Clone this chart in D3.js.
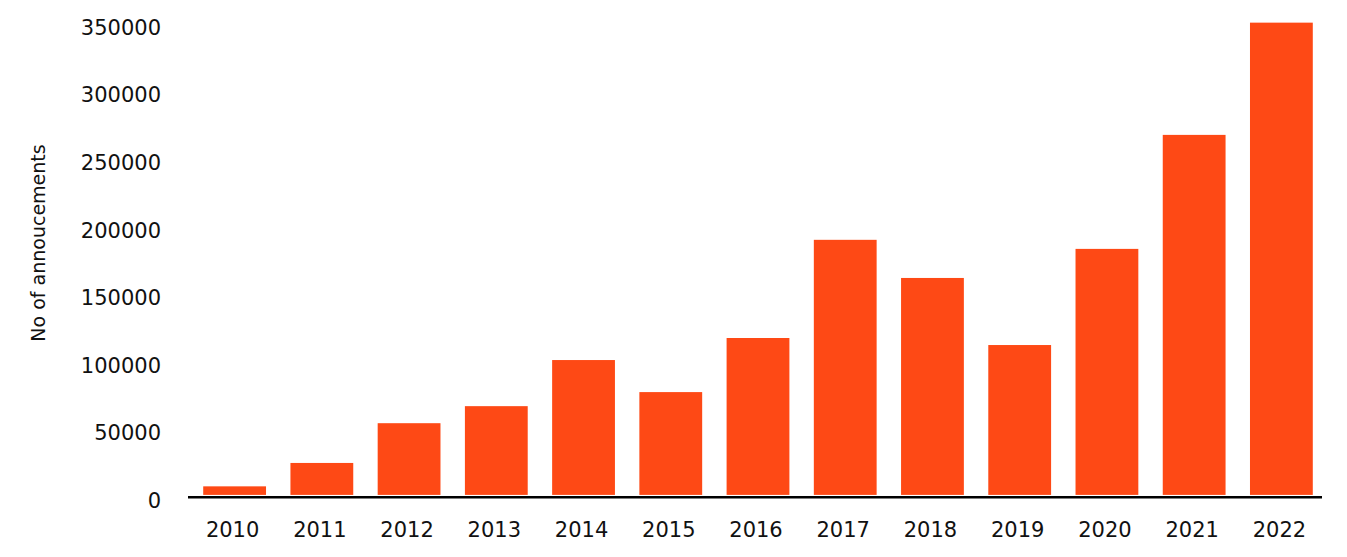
<!DOCTYPE html>
<html>
<head>
<meta charset="utf-8">
<script src="https://cdn.jsdelivr.net/npm/d3@7"></script>
<style>
  body { margin: 0; background: #fff; }
  text { font-family: 'DejaVu Sans', Verdana, sans-serif; fill: #111; }
</style>
</head>
<body>
<div class="container"></div>
<script>
const WIDTH = 1347;
const HEIGHT = 557;

var years = ['2010','2011','2012','2013','2014','2015','2016','2017','2018','2019','2020','2021','2022'];
var announcements = [8100, 25400, 54800, 67400, 101500, 77800, 117800, 190400, 162200, 112600, 183700, 268000, 351000];
var yTicks = [0, 50000, 100000, 150000, 200000, 250000, 300000, 350000];
var yTitle = 'No of annoucements';

var display = function () {
  var svg = d3.select('.container').append('svg')
    .attr('width', WIDTH)
    .attr('height', HEIGHT)

  var x = d3.scaleBand()
    .domain(years)
    .range([191, 1325])
    .paddingInner(0.28)
    .paddingOuter(0.14)

  var y = d3.scaleLinear()
    .domain([0, 350000])
    .range([497.3, 24])

  drawBars(svg, x, y);
  drawAxes(svg, x, y);
}

var drawBars = function (svg, x, y) {
  svg.append('g')
    .selectAll('rect')
    .data(years)
    .join('rect')
    .attr('x', d => x(d))
    .attr('y', (d, i) => y(announcements[i]))
    .attr('width', x.bandwidth())
    .attr('height', (d, i) => y(0) - 2.4 - y(announcements[i]))
    .attr('fill', '#fe4915')
}

var drawAxes = function (svg, x, y) {
  // y labels only, no axis line
  var yAxis = svg.append('g')
    .attr('transform', 'translate(161,3.5)')
    .call(d3.axisLeft(y).tickValues(yTicks).tickSize(0).tickPadding(0).tickFormat(d3.format('d')))
  yAxis.select('.domain').remove()
  yAxis.selectAll('text')
    .style('font-size', '21px')
    .style('font-family', "'DejaVu Sans', Verdana, sans-serif")
    .attr('fill', '#111')

  var xAxis = svg.append('g')
    .attr('transform', 'translate(-2,' + y(0) + ')')
    .call(d3.axisBottom(x).tickSize(0).tickPadding(25))
  xAxis.select('.domain').remove()
  xAxis.selectAll('text')
    .style('font-size', '21px')
    .style('font-family', "'DejaVu Sans', Verdana, sans-serif")
    .attr('fill', '#111')

  svg.append('line')
    .attr('x1', 188)
    .attr('x2', 1322)
    .attr('y1', y(0))
    .attr('y2', y(0))
    .attr('stroke', '#000')
    .attr('stroke-width', '2.6px')

  svg.append('text')
    .attr('transform', 'translate(45,243) rotate(-90)')
    .attr('text-anchor', 'middle')
    .style('font-size', '19px')
    .text(yTitle)
}

window.onload = display;
</script>
</body>
</html>
